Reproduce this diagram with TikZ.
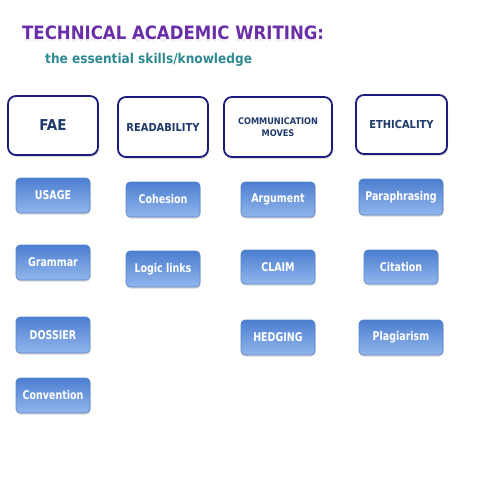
\documentclass[tikz,border=0pt]{standalone}
\usepackage{fontspec}
\setmainfont{DejaVu Sans}
\newfontfamily\condfont{DejaVu Sans Condensed}
\newfontfamily\narrowfont[FakeStretch=0.88]{DejaVu Sans Condensed}
\usetikzlibrary{shadows}
\definecolor{titlepurple}{HTML}{6A2FA8}
\definecolor{subteal}{HTML}{2E8A92}
\definecolor{navyline}{HTML}{1C1C7E}
\definecolor{navytext}{HTML}{1F3A6A}
\definecolor{bluetop}{HTML}{4C7ED0}
\definecolor{bluebot}{HTML}{92B6EC}
\definecolor{blueedge}{HTML}{5A86C6}
\begin{document}
\begin{tikzpicture}[x=1pt,y=-1pt,
  headbox/.style={draw=navyline, line width=1.8pt, fill=white, rounded corners=8pt,
    drop shadow={shadow xshift=1pt, shadow yshift=-2pt, fill=black!25},
    text=navytext, font=\condfont\bfseries, align=center},
  itembox/.style={draw=blueedge, line width=0.6pt, rounded corners=4pt,
    top color=bluetop, bottom color=bluebot,
    drop shadow={shadow xshift=0.5pt, shadow yshift=-1.5pt, fill=black!30},
    text=white, font=\narrowfont\bfseries\fontsize{12}{13}\selectfont}]
\useasboundingbox (0,0) rectangle (480,480);
\fill[white] (0,0) rectangle (480,480);
% title
\node[text=titlepurple!30, font=\condfont\bfseries\fontsize{18.4}{20}\selectfont, anchor=north west, inner sep=0pt, yscale=-0.25, opacity=0.35] (titleshadow) at (22,42) {TECHNICAL ACADEMIC WRITING:};
\node[text=titlepurple, font=\condfont\bfseries\fontsize{18.4}{20}\selectfont, anchor=west, inner sep=0pt] (title) at (22,33) {TECHNICAL ACADEMIC WRITING:};
\node[text=subteal, font=\condfont\bfseries\fontsize{13.5}{15}\selectfont, anchor=west, inner sep=0pt] (subtitle) at (45,60) {the essential skills/knowledge};
% header boxes
\node[headbox, minimum width=90pt, minimum height=59pt, font=\condfont\bfseries\fontsize{15}{16}\selectfont] (fae) at (53,125.5) {FAE};
\node[headbox, minimum width=90pt, minimum height=60pt, font=\condfont\bfseries\fontsize{11}{12}\selectfont] (read) at (163,127) {READABILITY};
\node[headbox, minimum width=108pt, minimum height=60pt, font=\condfont\bfseries\fontsize{9.1}{12}\selectfont] (comm) at (278,127) {COMMUNICATION\\MOVES};
\node[headbox, minimum width=91pt, minimum height=59pt, font=\condfont\bfseries\fontsize{11}{12}\selectfont] (eth) at (401.5,124.5) {ETHICALITY};
% items
\node[itembox, minimum width=74pt, minimum height=35pt] (usage) at (53,195.5) {USAGE};
\node[itembox, minimum width=74pt, minimum height=35pt] (grammar) at (53,262.5) {Grammar};
\node[itembox, minimum width=74pt, minimum height=36pt] (dossier) at (53,335) {DOSSIER};
\node[itembox, minimum width=74pt, minimum height=35pt] (convention) at (53,395.5) {Convention};
\node[itembox, minimum width=74pt, minimum height=35pt] (cohesion) at (163,199.5) {Cohesion};
\node[itembox, minimum width=74pt, minimum height=36pt] (logic) at (163,269) {Logic links};
\node[itembox, minimum width=74pt, minimum height=35pt] (argument) at (278,199.5) {Argument};
\node[itembox, minimum width=74pt, minimum height=34pt] (claim) at (278,267) {CLAIM};
\node[itembox, minimum width=74pt, minimum height=35pt] (hedging) at (278,337.5) {HEDGING};
\node[itembox, minimum width=84pt, minimum height=36pt] (para) at (401,197) {Paraphrasing};
\node[itembox, minimum width=74pt, minimum height=34pt] (citation) at (401,267) {Citation};
\node[itembox, minimum width=84pt, minimum height=35pt] (plag) at (401,337.5) {Plagiarism};
\end{tikzpicture}
\end{document}
